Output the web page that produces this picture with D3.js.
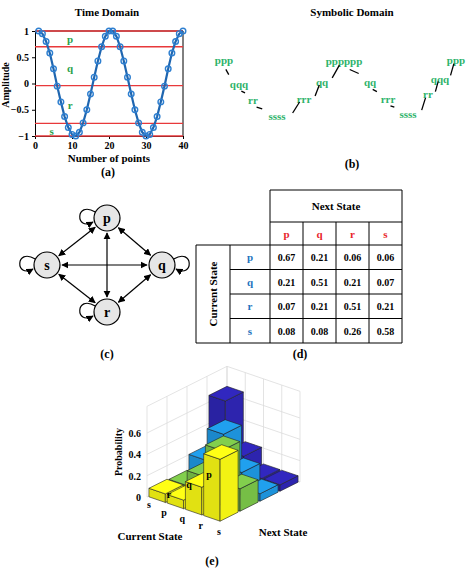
<!DOCTYPE html>
<html><head><meta charset="utf-8">
<script src="https://cdn.jsdelivr.net/npm/d3@7"></script>
<style>body{margin:0;background:#fff}text{font-family:"Liberation Serif",serif;font-weight:bold}</style>
</head><body><div id="fig"></div>
<script>
// Data
const signal = [1,0.95,0.8,0.58,0.28,-0.05,-0.35,-0.63,-0.84,-0.97,-1,-0.93,-0.75,-0.5,-0.2,0.12,0.43,0.7,0.9,1,
                1,0.9,0.7,0.43,0.12,-0.2,-0.5,-0.75,-0.93,-1,-0.97,-0.84,-0.63,-0.35,-0.05,0.28,0.58,0.8,0.95,1];
const thresholds = [1, 0.7, -0.04, -0.76, -1];
const bandLabels = [{s:"p", x:9.5, y:0.85}, {s:"q", x:9.5, y:0.3}, {s:"r", x:9.5, y:-0.4}, {s:"s", x:4.5, y:-0.9}];
const symbols = ["ppp","qqq","rr","ssss","rrr","qq","pppppp","qq","rrr","ssss","rr","qqq","ppp"];
const symbolX = [224,239,253,277,304,322,344,370,388,408,428,440,456];
const symbolY = [64,88,104,120,103,86,65,86,103,118,98,83,64];
const states = ["p","q","r","s"];
const matrix = [[0.67,0.21,0.06,0.06],[0.21,0.51,0.21,0.07],[0.07,0.21,0.51,0.21],[0.08,0.08,0.26,0.58]];
const barColors = ["#2f26b8","#1f9ae6","#7dc84a","#ffff14"];
const probTicks = [0, 0.2, 0.4, 0.6];

const svg = d3.select("#fig").append("svg").attr("width",474).attr("height",575);

// ---------- (a) time domain
const X = d3.scaleLinear().domain([0,40]).range([35,183]);
const Y = d3.scaleLinear().domain([-1,1]).range([136,31]);
svg.append("text").attr("x",107).attr("y",16).attr("text-anchor","middle").attr("font-size",11).text("Time Domain");
svg.append("g").attr("transform","translate(0,136)").call(d3.axisBottom(X).tickValues([0,10,20,30,40]).tickSize(3))
   .call(g=>g.selectAll("text").attr("font-size",10).attr("fill","#000"));
svg.append("g").attr("transform","translate(35,0)").call(d3.axisLeft(Y).tickValues([-1,-0.5,0,0.5,1]).tickSize(3).tickFormat(d3.format("~g")))
   .call(g=>g.selectAll("text").attr("font-size",10).attr("fill","#000"));
svg.append("line").attr("x1",35).attr("x2",183).attr("y1",31).attr("y2",31).attr("stroke","#000");
svg.append("line").attr("x1",183).attr("x2",183).attr("y1",31).attr("y2",136).attr("stroke","#000");
svg.selectAll(".th").data(thresholds).join("line").attr("x1",35).attr("x2",183)
   .attr("y1",d=>Y(d)).attr("y2",d=>Y(d)).attr("stroke","#e8393b").attr("stroke-width",1.3);
svg.append("path").datum(signal).attr("fill","none").attr("stroke","#1f66b0").attr("stroke-width",2.2)
   .attr("d",d3.line().x((d,i)=>X(i+1)).y(d=>Y(d)));
svg.selectAll(".pt").data(signal).join("circle").attr("cx",(d,i)=>X(i+1)).attr("cy",d=>Y(d)).attr("r",2.8)
   .attr("fill","none").attr("stroke","#2e7fd0").attr("stroke-width",1.4);
svg.selectAll(".bl").data(bandLabels).join("text").attr("x",d=>X(d.x)).attr("y",d=>Y(d.y)+4)
   .attr("fill","#2aa24a").attr("font-size",11).attr("text-anchor","middle").text(d=>d.s);
svg.append("text").attr("transform","translate(9,85) rotate(-90)").attr("text-anchor","middle").attr("font-size",10).text("Amplitude");
svg.append("text").attr("x",109).attr("y",162).attr("text-anchor","middle").attr("font-size",11).text("Number of points");
svg.append("text").attr("x",108).attr("y",176).attr("text-anchor","middle").attr("font-size",12).text("(a)");

// ---------- (b) symbolic domain
svg.append("text").attr("x",352).attr("y",16).attr("text-anchor","middle").attr("font-size",11).text("Symbolic Domain");
svg.selectAll(".sym").data(symbols).join("text").attr("x",(d,i)=>symbolX[i]).attr("y",(d,i)=>symbolY[i])
   .attr("text-anchor","middle").attr("fill","#2eb36b").attr("font-size",11).text(d=>d);
for (let i=0;i<symbols.length-1;i++){
  const up = symbolY[i+1] < symbolY[i];
  const x1 = symbolX[i] + (up ? symbols[i].length*2.8 : 0), x2 = symbolX[i+1] - (up ? 0 : symbols[i+1].length*2.8);
  const y1 = symbolY[i] + (up ? 0 : 2), y2 = symbolY[i+1] - (up ? 8 : 10);
  const mx = (x1+x2)/2, my = (y1+y2)/2, dx = (x2-x1)*0.22, dy = (y2-y1)*0.22;
  svg.append("line").attr("x1",mx-dx).attr("y1",my-dy).attr("x2",mx+dx).attr("y2",my+dy)
     .attr("stroke","#000").attr("stroke-width",1.3);
}
svg.append("text").attr("x",352).attr("y",168).attr("text-anchor","middle").attr("font-size",12).text("(b)");

// ---------- (c) state graph
const defs = svg.append("defs");
defs.append("marker").attr("id","ah").attr("viewBox","0 0 10 10").attr("refX",9).attr("refY",5)
  .attr("markerWidth",6).attr("markerHeight",6).attr("orient","auto-start-reverse")
  .append("path").attr("d","M0,0L10,5L0,10z").attr("fill","#000");
const nodes = {p:[107,218], q:[162,265], r:[107,312], s:[47,265]};
const R = 13;
const pairs = [["p","q"],["p","s"],["p","r"],["s","q"],["s","r"],["q","r"]];
pairs.forEach(([a,b])=>{
  const [x1,y1]=nodes[a],[x2,y2]=nodes[b];
  const L=Math.hypot(x2-x1,y2-y1), ux=(x2-x1)/L, uy=(y2-y1)/L;
  svg.append("line").attr("x1",x1+ux*(R+2)).attr("y1",y1+uy*(R+2)).attr("x2",x2-ux*(R+2)).attr("y2",y2-uy*(R+2))
    .attr("stroke","#000").attr("stroke-width",1.2).attr("marker-start","url(#ah)").attr("marker-end","url(#ah)");
});
const loops = {p:-1, s:-1, q:1, r:-1};
Object.entries(loops).forEach(([k,dx])=>{
  const [cx,cy]=nodes[k];
  svg.append("path").attr("d",`M${cx+dx*R*0.9},${cy-6} C${cx+dx*32},${cy-18} ${cx+dx*32},${cy+14} ${cx+dx*(R+1)},${cy+4}`)
    .attr("fill","none").attr("stroke","#000").attr("stroke-width",1.2).attr("marker-end","url(#ah)");
});
Object.entries(nodes).forEach(([k,[x,y]])=>{
  svg.append("circle").attr("cx",x).attr("cy",y).attr("r",R).attr("fill","#e6e6e6").attr("stroke","#000").attr("stroke-width",1.2);
  svg.append("text").attr("x",x).attr("y",y+5).attr("text-anchor","middle").attr("font-size",14).text(k);
});
svg.append("text").attr("x",107).attr("y",358).attr("text-anchor","middle").attr("font-size",12).text("(c)");

// ---------- (d) table
const colX = d3.scaleBand().domain(states).range([270,402]);
const rowY = d3.scaleBand().domain(states).range([245,343]);
const tb = svg.append("g").attr("stroke","#000").attr("stroke-width",1).attr("fill","none");
tb.append("line").attr("x1",270).attr("x2",402).attr("y1",190).attr("y2",190);
tb.append("line").attr("x1",270).attr("x2",402).attr("y1",222).attr("y2",222);
tb.append("line").attr("x1",196).attr("x2",402).attr("y1",245).attr("y2",245);
states.forEach(s=>tb.append("line").attr("x1",230).attr("x2",402).attr("y1",rowY(s)+rowY.bandwidth()).attr("y2",rowY(s)+rowY.bandwidth()));
tb.append("line").attr("x1",196).attr("x2",230).attr("y1",343).attr("y2",343);
[196,230].forEach(x=>tb.append("line").attr("x1",x).attr("x2",x).attr("y1",245).attr("y2",343));
tb.append("line").attr("x1",270).attr("x2",270).attr("y1",190).attr("y2",343);
states.forEach(s=>tb.append("line").attr("x1",colX(s)+colX.bandwidth()).attr("x2",colX(s)+colX.bandwidth())
  .attr("y1",s==="s"?190:222).attr("y2",343));
svg.append("text").attr("x",336).attr("y",210).attr("text-anchor","middle").attr("font-size",11).text("Next State");
svg.append("text").attr("transform","translate(217,294) rotate(-90)").attr("text-anchor","middle").attr("font-size",11).text("Current State");
states.forEach((s,i)=>{
  svg.append("text").attr("x",colX(s)+colX.bandwidth()/2).attr("y",238).attr("text-anchor","middle").attr("font-size",11).attr("fill","#e8262b").text(s);
  svg.append("text").attr("x",250).attr("y",rowY(s)+rowY.bandwidth()/2+4).attr("text-anchor","middle").attr("font-size",11).attr("fill","#1e73be").text(s);
  states.forEach((t,j)=>svg.append("text").attr("x",colX(t)+colX.bandwidth()/2).attr("y",rowY(s)+rowY.bandwidth()/2+4)
    .attr("text-anchor","middle").attr("font-size",10).text(matrix[i][j].toFixed(2)));
});
svg.append("text").attr("x",300).attr("y",358).attr("text-anchor","middle").attr("font-size",12).text("(d)");

// ---------- (e) 3D bars, oblique projection
// c = current-state coordinate (0 at back, 4 at front-right edge), n = next-state coordinate (0 at back, 4 at front-left edge)
const back = [227, 457];
const cX = d3.scaleLinear().domain([0,4]).range([0,73]), cY = d3.scaleLinear().domain([0,4]).range([0,25]);
const nX = d3.scaleLinear().domain([0,4]).range([0,-80]), nY = d3.scaleLinear().domain([0,4]).range([0,40]);
const Z = d3.scaleLinear().domain([0,0.6]).range([0,64]);
const pt = (c,n,z)=>[back[0]+cX(c)+nX(n), back[1]+cY(c)+nY(n)-Z(z)];
const ps = (c,n,z)=>pt(c,n,z).join(",");
const wallTop = 0.85;
const grid = svg.append("g").attr("stroke","#dcdcdc").attr("stroke-width",0.8).attr("fill","none");
// back walls: along c at n=0 and along n at c=0
grid.append("path").attr("d",`M${ps(0,0,0)}L${ps(4,0,0)}L${ps(4,0,wallTop)}L${ps(0,0,wallTop)}Z`);
grid.append("path").attr("d",`M${ps(0,0,0)}L${ps(0,4,0)}L${ps(0,4,wallTop)}L${ps(0,0,wallTop)}Z`);
probTicks.forEach(t=>{
  grid.append("path").attr("d",`M${ps(4,0,t)}L${ps(0,0,t)}L${ps(0,4,t)}`);
  const q = pt(0,4,t);
  svg.append("text").attr("x",q[0]-6).attr("y",q[1]+4).attr("text-anchor","end").attr("font-size",10).text(t);
});
[1,2,3].forEach(k=>{
  grid.append("path").attr("d",`M${ps(k,0,0)}L${ps(k,0,wallTop)}`);
  grid.append("path").attr("d",`M${ps(0,k,0)}L${ps(0,k,wallTop)}`);
  grid.append("path").attr("d",`M${ps(k,0,0)}L${ps(k,4,0)}`);
  grid.append("path").attr("d",`M${ps(0,k,0)}L${ps(4,k,0)}`);
});
const bars = [];
states.forEach((s,i)=>states.forEach((t,j)=>bars.push({i,j,v:matrix[i][j]})));
bars.sort((a,b)=>(a.i+a.j)-(b.i+b.j) || a.i-b.i);
const w = 0.9, g0 = (1-w)/2;
bars.forEach(b=>{
  // current index i runs along n (front-left edge), next index j runs along c (front-right edge)
  const n0=b.i+g0, n1=n0+w, c0=b.j+g0, c1=c0+w, col=d3.color(barColors[b.i]);
  const face = (pts,f)=>svg.append("path").attr("d","M"+pts.map(p=>ps(...p)).join("L")+"Z")
     .attr("fill",f).attr("stroke","#222").attr("stroke-width",0.6);
  face([[c0,n1,0],[c1,n1,0],[c1,n1,b.v],[c0,n1,b.v]], col.darker(0.35));
  face([[c1,n0,0],[c1,n1,0],[c1,n1,b.v],[c1,n0,b.v]], col.darker(0.15));
  face([[c0,n0,b.v],[c1,n0,b.v],[c1,n1,b.v],[c0,n1,b.v]], col.brighter(0.1));
});
states.forEach((s,k)=>{
  const a = pt(4-0.5-(3-k)*0,4,0);
  const cur = pt(0,k+0.5,0); // along front-left edge n: at c=0? use left edge at c=0
  const l = pt(0.0,k+0.5,0);
  svg.append("text").attr("x",l[0]-8+ (k*0)).attr("y",l[1]+16).attr("text-anchor","middle").attr("font-size",10).text(s);
});
// next-state labels along front-right edge (c varies, n=4): j=0 (p) at back... map to labels
states.forEach((s,k)=>{
  const r = pt(k+0.5,4,0);
  svg.append("text").attr("x",r[0]+8).attr("y",r[1]+16).attr("text-anchor","middle").attr("font-size",10).text(s);
});
svg.append("text").attr("x",150).attr("y",540).attr("text-anchor","middle").attr("font-size",11).text("Current State");
svg.append("text").attr("x",283).attr("y",536).attr("text-anchor","middle").attr("font-size",11).text("Next State");
svg.append("text").attr("transform","translate(122,452) rotate(-90)").attr("text-anchor","middle").attr("font-size",10).text("Probability");
svg.append("text").attr("x",212).attr("y",565).attr("text-anchor","middle").attr("font-size",12).text("(e)");
</script></body></html>
